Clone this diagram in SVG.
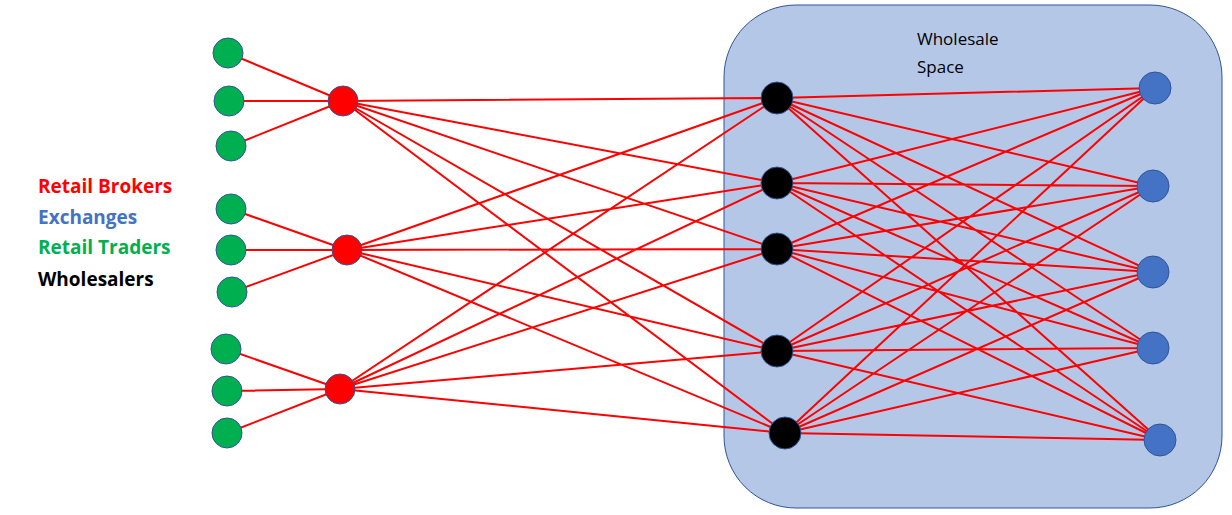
<svg xmlns="http://www.w3.org/2000/svg" width="1232" height="515" viewBox="0 0 1232 515">
<style>
.e{stroke:#ff0000;stroke-width:2;fill:none}
.g{fill:#00b050;stroke:#2f5597;stroke-width:1}
.r{fill:#ff0000;stroke:#2f5597;stroke-width:1}
.k{fill:#000;stroke:#2f5597;stroke-width:1}
.b{fill:#4472c4;stroke:#2f5597;stroke-width:1}
.l{font-family:"Open Sans","Liberation Sans",sans-serif;font-weight:bold;font-size:19px}
.w{font-family:"Open Sans","Liberation Sans",sans-serif;font-size:17px;fill:#000}
</style>
<rect width="1232" height="515" fill="#fff"/>
<g id="space"><rect x="724" y="5" width="498" height="503" rx="72" fill="#b4c7e7" stroke="#2f5597" stroke-width="1"/>
<text class="w" x="917" y="45">Wholesale</text><text class="w" x="917" y="73">Space</text></g>
<g id="legend">
<text class="l" x="38" y="193" fill="#ff0000">Retail Brokers</text>
<text class="l" x="38" y="224" fill="#4472c4">Exchanges</text>
<text class="l" x="38" y="254" fill="#00b050">Retail Traders</text>
<text class="l" x="38" y="286" fill="#000">Wholesalers</text>
</g>
<g id="connectors">
<path class="e" d="M228,53L343,101M229,101L343,101M231,146L343,101M231,209L347,250M231,250L347,250M232,292L347,250M226,349L340,389M227,391L340,389M227,433L340,389"/>
<path class="e" d="M343,101L777,98M343,101L777,183M343,101L777,249M343,101L777,351M343,101L785,433
M347,250L777,98M347,250L777,183M347,250L777,249M347,250L777,351M347,250L785,433
M340,389L777,98M340,389L777,183M340,389L777,249M340,389L777,351M340,389L785,433"/>
<path class="e" d="M777,98L1155,88M777,98L1153,186M777,98L1153,272M777,98L1153,348M777,98L1160,440
M777,183L1155,88M777,183L1153,186M777,183L1153,272M777,183L1153,348M777,183L1160,440
M777,249L1155,88M777,249L1153,186M777,249L1153,272M777,249L1153,348M777,249L1160,440
M777,351L1155,88M777,351L1153,186M777,351L1153,272M777,351L1153,348M777,351L1160,440
M785,433L1155,88M785,433L1153,186M785,433L1153,272M785,433L1153,348M785,433L1160,440"/>
</g>
<g id="traders">
<circle id="t1" class="g" cx="228" cy="53" r="15"/><circle id="t2" class="g" cx="229" cy="101" r="15"/><circle id="t3" class="g" cx="231" cy="146" r="15"/>
<circle id="t4" class="g" cx="231" cy="209" r="15"/><circle id="t5" class="g" cx="231" cy="250" r="15"/><circle id="t6" class="g" cx="232" cy="292" r="15"/>
<circle id="t7" class="g" cx="226" cy="349" r="15"/><circle id="t8" class="g" cx="227" cy="391" r="15"/><circle id="t9" class="g" cx="227" cy="433" r="15"/>
</g>
<g id="brokers">
<circle id="r1" class="r" cx="343" cy="101" r="15"/><circle id="r2" class="r" cx="347" cy="250" r="15"/><circle id="r3" class="r" cx="340" cy="389" r="15"/>
</g>
<g id="wholesalers">
<circle id="w1" class="k" cx="777" cy="98" r="16"/><circle id="w2" class="k" cx="777" cy="183" r="16"/><circle id="w3" class="k" cx="777" cy="249" r="16"/><circle id="w4" class="k" cx="777" cy="351" r="16"/><circle id="w5" class="k" cx="785" cy="433" r="16"/>
</g>
<g id="exchanges">
<circle id="x1" class="b" cx="1155" cy="88" r="16"/><circle id="x2" class="b" cx="1153" cy="186" r="16"/><circle id="x3" class="b" cx="1153" cy="272" r="16"/><circle id="x4" class="b" cx="1153" cy="348" r="16"/><circle id="x5" class="b" cx="1160" cy="440" r="16"/>
</g>
</svg>
